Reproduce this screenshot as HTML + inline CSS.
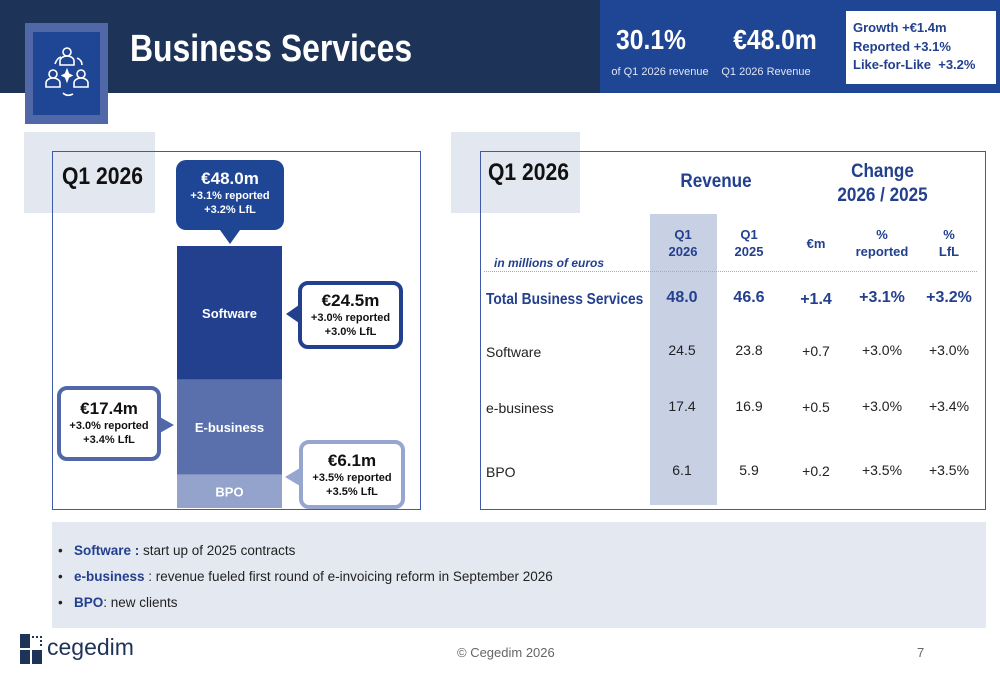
<!DOCTYPE html>
<html><head><meta charset="utf-8">
<style>
*{margin:0;padding:0;box-sizing:border-box}
body{width:1000px;height:685px;position:relative;background:#fff;font-family:"Liberation Sans",sans-serif;overflow:hidden}
.a{position:absolute}
.c{text-align:center}
.b{font-weight:bold}
.num{position:absolute;width:60px;text-align:center;font-size:14px;color:#222}
.tot{position:absolute;width:70px;text-align:center;font-size:16px;font-weight:bold;color:#23408e}
.hd{position:absolute;width:70px;text-align:center;font-size:13px;font-weight:bold;color:#23408e;line-height:17px}
.rl{position:absolute;left:486px;font-size:14px;color:#222}
.call{position:absolute;background:#fff;border-radius:10px;text-align:center;color:#111}
.call .v{font-size:17px;font-weight:bold;line-height:20px}
.call .s{font-size:11px;font-weight:bold;line-height:14px}
</style></head><body>
<div class="a" style="left:0;top:0;width:600px;height:93px;background:#1e3358"></div>
<div class="a" style="left:600px;top:0;width:400px;height:93px;background:#1f4595"></div>
<div class="a" style="left:25px;top:23px;width:83px;height:101px;background:#5068a8"></div>
<div class="a" style="left:33px;top:32px;width:67px;height:83px;background:#1f4595">
<svg width="67" height="83" viewBox="0 0 67 83" fill="none" stroke="#fff" stroke-width="1.6">
<circle cx="34" cy="20" r="4"/><path d="M27 33v-4a7 5 0 0 1 14 0v4z"/>
<circle cx="20" cy="42" r="4"/><path d="M13 55v-4a7 5 0 0 1 14 0v4z"/>
<circle cx="48" cy="42" r="4"/><path d="M41 55v-4a7 5 0 0 1 14 0v4z"/>
<path d="M22 32q2-6 6-7M44 26q5 2 5 7M40 62q-6 3-10-1"/>
<path d="M34 38l1.5 4 3 1.5-3 1.5-1.5 4-1.5-4-3-1.5 3-1.5z" fill="#fff"/>
</svg></div>
<div class="a b" style="left:130px;top:28px;font-size:38px;color:#fff;transform:scaleX(0.84);transform-origin:left top">Business Services</div>
<div class="a b c" style="left:596px;top:24px;width:110px;font-size:28px;color:#fff;transform:scaleX(0.88)">30.1%</div>
<div class="a c" style="left:604px;top:66px;width:112px;font-size:11px;color:#dfe5f3">of Q1 2026 revenue</div>
<div class="a b c" style="left:720px;top:24px;width:110px;font-size:28px;color:#fff;transform:scaleX(0.88)">€48.0m</div>
<div class="a c" style="left:716px;top:66px;width:100px;font-size:11px;color:#dfe5f3">Q1 2026 Revenue</div>
<div class="a b" style="left:846px;top:11px;width:150px;height:73px;background:#fff;padding:8px 0 0 7px;font-size:13px;line-height:18.5px;color:#23408e">Growth +€1.4m<br>Reported +3.1%<br>Like-for-Like&nbsp; +3.2%</div>

<div class="a" style="left:24px;top:132px;width:131px;height:81px;background:#e3e7f0"></div>
<div class="a" style="left:52px;top:151px;width:369px;height:359px;border:1.5px solid #3f5aa8"></div>
<div class="a b" style="left:62px;top:163px;font-size:24px;color:#111;transform:scaleX(0.88);transform-origin:left top">Q1 2026</div>
<svg class="a" id="bar" style="left:0;top:0" width="1000" height="685"></svg>

<div class="a" style="left:176px;top:160px;width:108px;height:70px;background:#1f4595;border-radius:10px;color:#fff;text-align:center">
<div style="font-size:17px;font-weight:bold;margin-top:9px;line-height:20px">€48.0m</div>
<div style="font-size:11px;font-weight:bold;line-height:14px">+3.1% reported<br>+3.2% LfL</div></div>
<div class="a" style="left:220px;top:230px;width:0;height:0;border-left:10px solid transparent;border-right:10px solid transparent;border-top:14px solid #1f4595"></div>

<div class="a" style="left:286px;top:305px;border-top:9px solid transparent;border-bottom:9px solid transparent;border-right:13px solid #23408e"></div>
<div class="call" style="left:298px;top:281px;width:105px;height:68px;border:4px solid #23408e;padding-top:6px">
<div class="v">€24.5m</div><div class="s">+3.0% reported<br>+3.0% LfL</div></div>

<div class="a" style="left:158px;top:416px;border-top:9px solid transparent;border-bottom:9px solid transparent;border-left:16px solid #5068a8"></div>
<div class="call" style="left:57px;top:386px;width:104px;height:75px;border:4px solid #5068a8;padding-top:9px">
<div class="v">€17.4m</div><div class="s">+3.0% reported<br>+3.4% LfL</div></div>

<div class="a" style="left:285px;top:468px;border-top:9px solid transparent;border-bottom:9px solid transparent;border-right:15px solid #97a6cf"></div>
<div class="call" style="left:299px;top:440px;width:106px;height:69px;border:4px solid #97a6cf;padding-top:7px">
<div class="v">€6.1m</div><div class="s">+3.5% reported<br>+3.5% LfL</div></div>

<div class="a" style="left:451px;top:132px;width:129px;height:81px;background:#e3e7f0"></div>
<div class="a" style="left:480px;top:151px;width:506px;height:359px;border:1.5px solid #3f5aa8"></div>
<div class="a" style="left:650px;top:214px;width:67px;height:291px;background:#c8d0e4"></div>
<div class="a b" style="left:488px;top:159px;font-size:24px;color:#111;transform:scaleX(0.88);transform-origin:left top">Q1 2026</div>
<div class="a b c" style="left:656px;top:171px;width:120px;font-size:19px;color:#23408e;transform:scaleX(0.9)">Revenue</div>
<div class="a b c" style="left:800px;top:160px;width:165px;font-size:19px;line-height:24px;color:#23408e;transform:scaleX(0.9)">Change<br>2026 / 2025</div>
<div class="hd" style="left:648px;top:226px">Q1<br>2026</div>
<div class="hd" style="left:714px;top:226px">Q1<br>2025</div>
<div class="hd" style="left:781px;top:235px">€m</div>
<div class="hd" style="left:847px;top:226px">%<br>reported</div>
<div class="hd" style="left:914px;top:226px">%<br>LfL</div>
<div class="a b" style="left:494px;top:256px;font-size:12px;font-style:italic;color:#23408e">in millions of euros</div>
<div class="a" style="left:484px;top:271px;width:493px;border-top:1px dotted #aaa"></div>

<div class="a b" style="left:486px;top:291px;font-size:16px;color:#23408e;transform:scaleX(0.86);transform-origin:left top;white-space:nowrap">Total Business Services</div>
<div class="tot" style="left:647px;top:289px">48.0</div>
<div class="tot" style="left:714px;top:289px">46.6</div>
<div class="tot" style="left:781px;top:291px">+1.4</div>
<div class="tot" style="left:847px;top:289px">+3.1%</div>
<div class="tot" style="left:914px;top:289px">+3.2%</div>

<div class="rl" style="top:344px">Software</div>
<div class="num" style="left:652px;top:342px">24.5</div><div class="num" style="left:719px;top:342px">23.8</div><div class="num" style="left:786px;top:343px">+0.7</div><div class="num" style="left:852px;top:342px">+3.0%</div><div class="num" style="left:919px;top:342px">+3.0%</div>
<div class="rl" style="top:400px">e-business</div>
<div class="num" style="left:652px;top:398px">17.4</div><div class="num" style="left:719px;top:398px">16.9</div><div class="num" style="left:786px;top:399px">+0.5</div><div class="num" style="left:852px;top:398px">+3.0%</div><div class="num" style="left:919px;top:398px">+3.4%</div>
<div class="rl" style="top:464px">BPO</div>
<div class="num" style="left:652px;top:462px">6.1</div><div class="num" style="left:719px;top:462px">5.9</div><div class="num" style="left:786px;top:463px">+0.2</div><div class="num" style="left:852px;top:462px">+3.5%</div><div class="num" style="left:919px;top:462px">+3.5%</div>

<div class="a" style="left:52px;top:522px;width:934px;height:106px;background:#e4e8f1;font-size:13.5px;color:#222">
<div class="a" style="left:6px;top:21px;white-space:nowrap">•&nbsp;&nbsp;&nbsp;<b style="color:#23408e">Software :</b> start up of 2025 contracts</div>
<div class="a" style="left:6px;top:47px;white-space:nowrap">•&nbsp;&nbsp;&nbsp;<b style="color:#23408e">e-business</b> : revenue fueled first round of e-invoicing reform in September 2026</div>
<div class="a" style="left:6px;top:73px;white-space:nowrap">•&nbsp;&nbsp;&nbsp;<b style="color:#23408e">BPO</b>: new clients</div>
</div>
<div class="a" style="left:20px;top:634px;width:24px;height:30px">
<div class="a" style="left:0;top:0;width:10px;height:14px;background:#1e3358"></div>
<div class="a" style="left:0;top:16px;width:10px;height:14px;background:#1e3358"></div>
<div class="a" style="left:12px;top:16px;width:10px;height:14px;background:#1e3358"></div>
<div class="a" style="left:12px;top:2px;width:10px;height:10px;border-top:2px dotted #1e3358;border-right:2px dotted #1e3358"></div></div>
<div class="a" style="left:47px;top:634px;font-size:23px;color:#1e3358">cegedim</div>
<div class="a" style="left:457px;top:645px;font-size:13px;color:#666">© Cegedim 2026</div>
<div class="a" style="left:917px;top:645px;font-size:13px;color:#666">7</div>

<script>
const segments = ["Software","E-business","BPO"];
const segValues = [24.5,17.4,6.1];
const segColors = ["#23408e","#5a70ad","#93a3cc"];
const svg = document.getElementById('bar');
const NS = "http://www.w3.org/2000/svg";
const bottom = 508, barX = 177, barW = 105, pxPerUnit = 262/48;
const y = v => bottom - v*pxPerUnit;
let acc = segValues.reduce((a,b)=>a+b,0);
for (let i=0;i<segments.length;i++){
  const top = y(acc), h = segValues[i]*pxPerUnit;
  const r = document.createElementNS(NS,'rect');
  r.setAttribute('x',barX); r.setAttribute('y',top); r.setAttribute('width',barW); r.setAttribute('height',h);
  r.setAttribute('fill',segColors[i]);
  
  
  svg.appendChild(r);
  const t = document.createElementNS(NS,'text');
  t.setAttribute('x',barX+barW/2); t.setAttribute('y',top+h/2+5);
  t.setAttribute('text-anchor','middle'); t.setAttribute('fill','#fff');
  t.setAttribute('font-size','13'); t.setAttribute('font-weight','bold');
  t.setAttribute('font-family','Liberation Sans, sans-serif');
  t.textContent = segments[i];
  
  
  svg.appendChild(t);
  acc -= segValues[i];
}
</script>
</body></html>
